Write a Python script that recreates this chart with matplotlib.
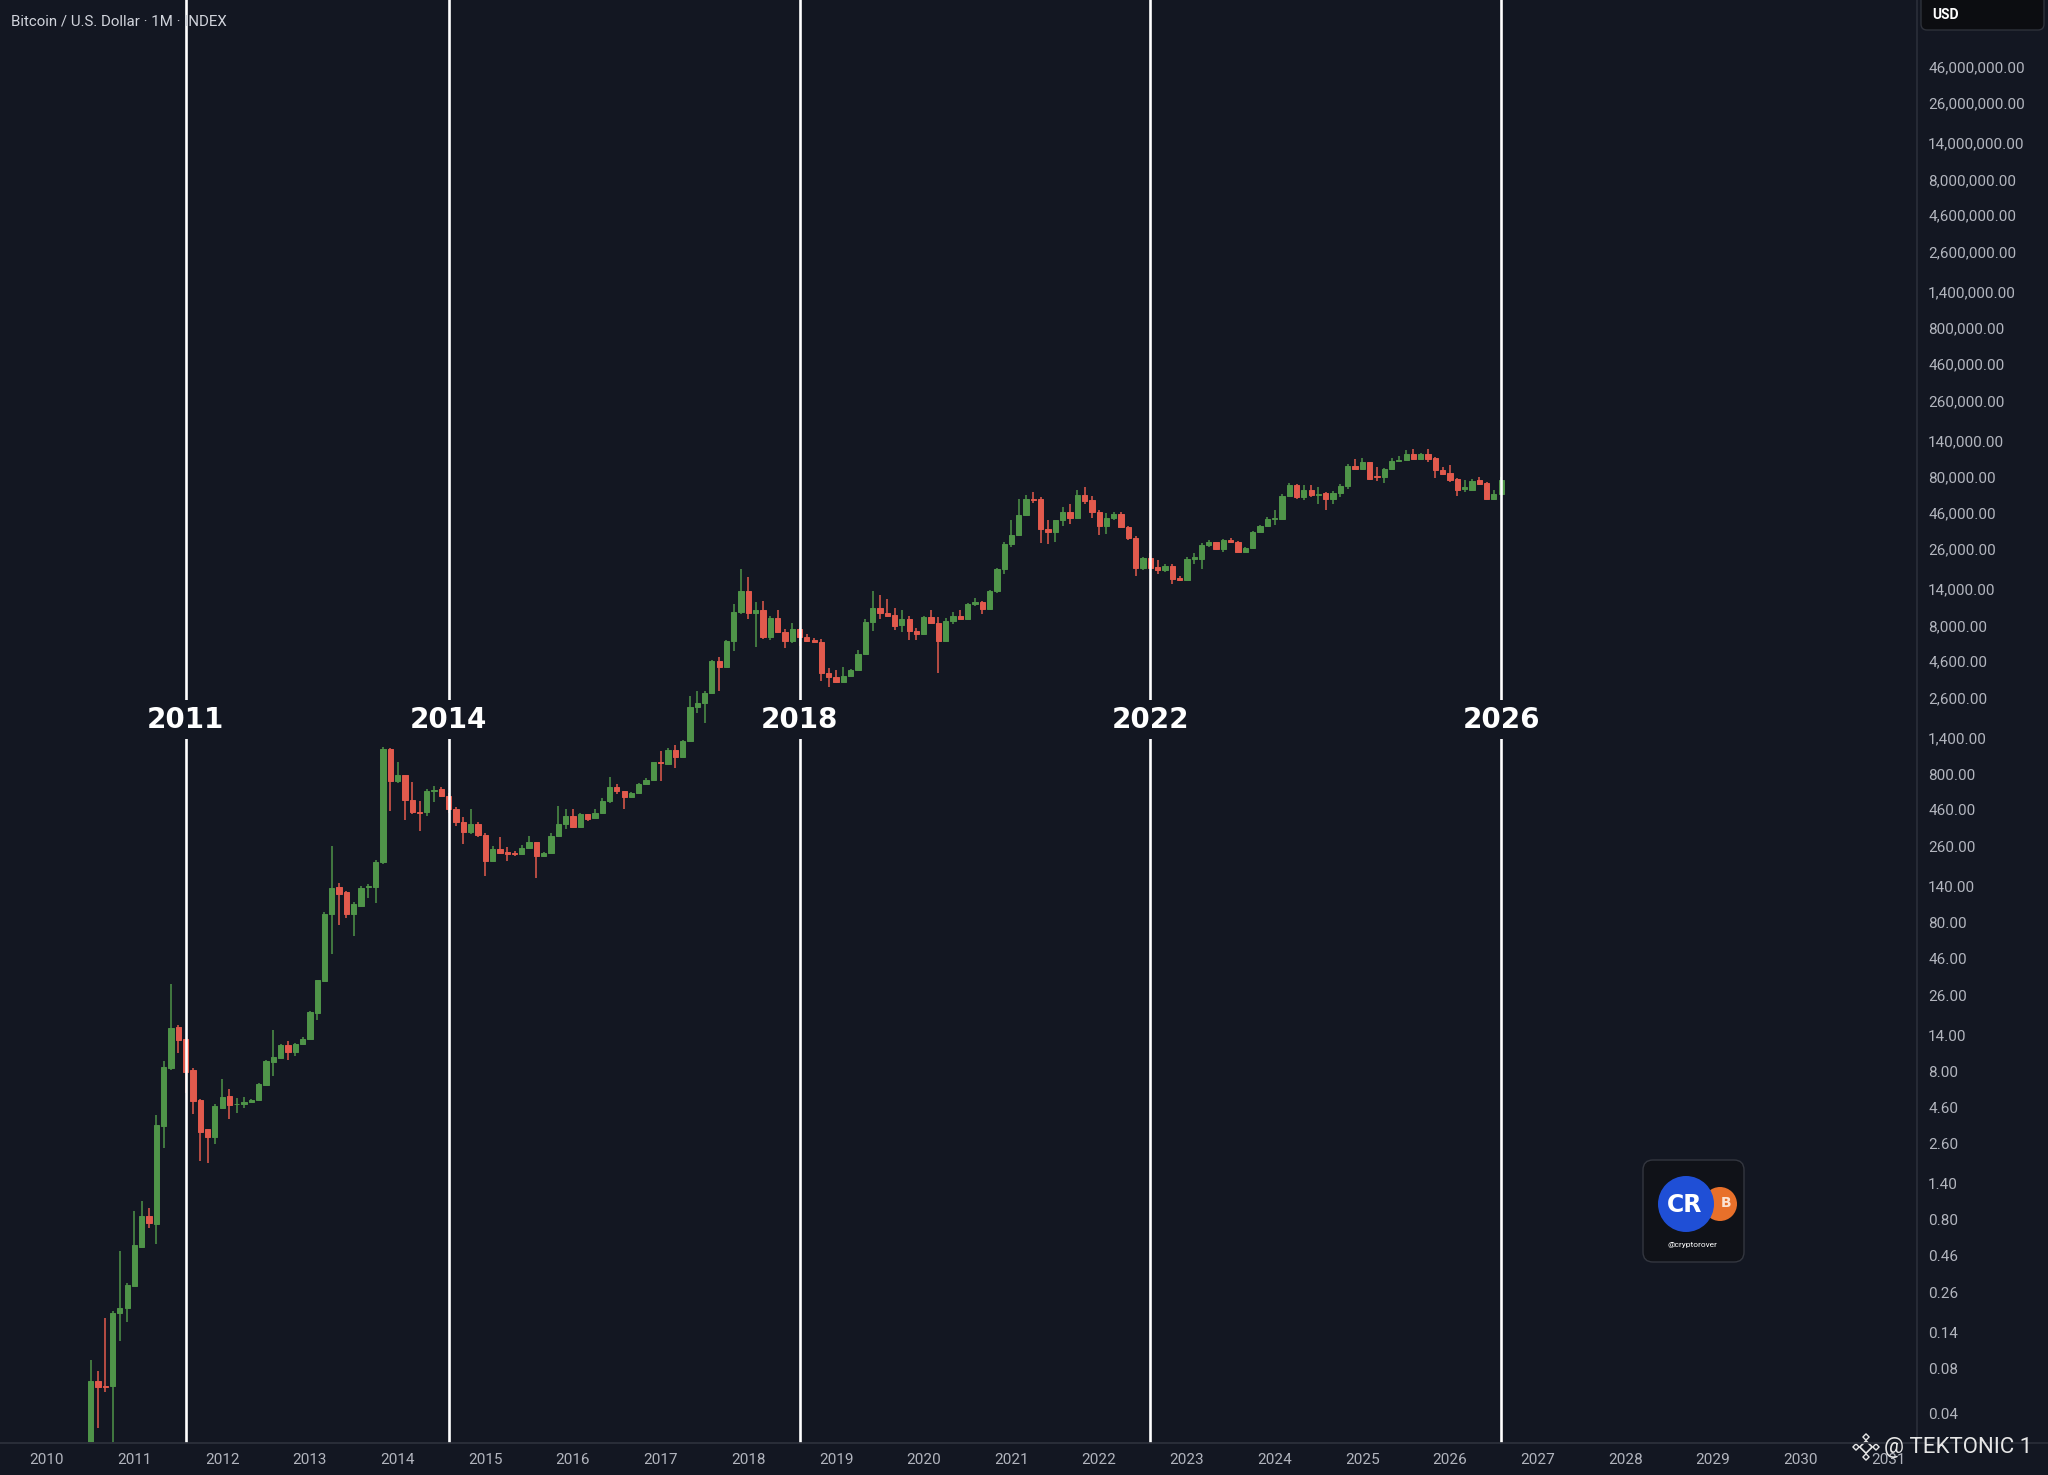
import matplotlib
matplotlib.use("Agg")
import matplotlib.pyplot as plt
import matplotlib.transforms as mtransforms
from matplotlib.patches import FancyBboxPatch, Circle
from matplotlib.ticker import FixedLocator, FuncFormatter, NullLocator

plt.rcParams['font.family'] = ['Roboto', 'DejaVu Sans']

BG = "#131722"
UP = "#4f9449"
DOWN = "#e25a4d"
AXIS_TEXT = "#b2b5be"
GRID_LINE = "#2a2e39"

# Monthly BTC candles, Jul 2010 .. Aug 2026
first_year, first_month = 2010, 7

opens = [
    0.02, 0.066, 0.061, 0.0607, 0.189, 0.2045,
    0.286, 0.524, 0.848, 0.752, 3.42, 8.37, 15.9, 13.1, 8.11, 5.10, 3.25, 2.90,
    4.55, 5.45, 4.79, 4.85, 4.95, 5.10, 6.46, 9.23, 9.87, 12.1, 10.8, 12.3,
    13.1, 19.8, 32.4, 92.1, 139, 128, 92.1, 104, 138, 138, 206, 1178,
    721, 787, 534, 445, 441, 611, 634, 565, 465, 378, 324, 370,
    312, 208, 250, 240, 234, 230, 256, 277, 225, 234, 307, 368,
    419, 352, 430, 403, 434, 523, 657, 611, 557, 596, 685, 729,
    958, 940, 1166, 1046, 1341, 2249, 2393, 2794, 4639, 4226, 6259, 9812,
    13590, 9714, 10070, 6725, 8986, 7196, 6257, 7578, 6725, 6400, 6200, 3809,
    3600, 3313, 3675, 4012, 5142, 8403, 10495, 9700, 9400, 8000, 8848, 7308,
    7012, 9080, 8274, 6257, 8534, 9318, 8848, 11165, 11460, 10333, 13590, 19215,
    28313, 32550, 43950, 56900, 56900, 35740, 33940, 40670, 46270, 42390, 59940, 56040,
    46000, 37300, 42390, 45080, 36670, 31070, 19520, 22790, 19800, 18730, 19920, 16600,
    16040, 22440, 22440, 27880, 29060, 26200, 29820, 29100, 24890, 26480, 33940, 37240,
    41730, 41730, 59320, 69990, 58410, 65430, 60500, 62000, 56910, 62150, 68890, 93960,
    90620, 100500, 81000, 79500, 90620, 102050, 103500, 113200, 105800, 113200, 107460, 89000,
    84500, 77600, 66500, 65430, 75610, 72540, 56910, 60870,
]
highs = [
    0.092, 0.077, 0.175, 0.196, 0.493, 0.30,
    0.925, 1.069, 0.964, 4.06, 9.38, 31.1, 16.4, 13.3, 8.46, 5.20, 3.30, 4.84,
    7.06, 6.04, 5.31, 5.37, 5.20, 6.70, 9.48, 15.1, 12.3, 12.8, 12.4, 13.6,
    20.5, 33.0, 95.0, 263, 147, 130, 110, 141, 146, 210, 1222, 1190,
    958, 790, 703, 529, 630, 667, 650, 600, 480, 408, 465, 380,
    320, 263, 300, 258, 242, 268, 307, 280, 240, 322, 490, 465,
    465, 440, 430, 465, 550, 767, 690, 615, 610, 700, 750, 970,
    1137, 1190, 1254, 1350, 2695, 2882, 2900, 4700, 4900, 6400, 11165, 19220,
    16885, 11460, 11600, 9300, 10100, 7600, 8274, 7700, 7000, 6600, 6500, 4139,
    4000, 4200, 4100, 5450, 8848, 13590, 12900, 12065, 10500, 10175, 9250, 7700,
    9300, 10175, 9100, 9000, 9900, 10175, 11300, 12253, 11700, 13800, 19500, 29000,
    40670, 56900, 59940, 63100, 58500, 40670, 41000, 50000, 52120, 64750, 68200, 59000,
    47500, 45500, 46270, 46270, 37500, 32000, 23200, 24500, 22100, 20600, 20700, 17200,
    23000, 24500, 28500, 30130, 29300, 30500, 31000, 29500, 27000, 34500, 37800, 43000,
    47500, 61500, 72540, 71000, 69990, 69990, 68190, 63000, 64000, 71500, 96930, 105800,
    107460, 101000, 92990, 91000, 107460, 109700, 120400, 122300, 115500, 122300, 108000, 92990,
    95430, 78500, 75610, 77600, 79620, 73500, 65430, 79620,
]
lows = [
    0.02, 0.032, 0.056, 0.015, 0.122, 0.166,
    0.286, 0.52, 0.707, 0.552, 2.44, 8.11, 10.7, 5.74, 4.10, 1.99, 1.94, 2.58,
    4.55, 3.80, 4.21, 4.55, 4.90, 5.10, 6.40, 7.43, 9.80, 9.48, 10.1, 12.2,
    13.1, 17.6, 32.0, 49.0, 77.3, 85.7, 65.2, 103, 118, 109, 200, 448,
    700, 392, 433, 332, 420, 515, 560, 440, 359, 270, 315, 300,
    165, 205, 232, 208, 226, 228, 253, 159, 222, 232, 300, 340,
    345, 348, 385, 400, 430, 510, 590, 465, 550, 590, 680, 725,
    721, 930, 878, 1040, 1330, 2049, 1755, 2750, 2912, 4200, 5415, 9500,
    8850, 5760, 6450, 6390, 7100, 5642, 6100, 5850, 6150, 6100, 3365, 3066,
    3300, 3300, 3650, 4000, 5100, 7385, 8848, 9200, 7460, 7196, 6390, 6390,
    6900, 8200, 3809, 6200, 8200, 8900, 8800, 10800, 9560, 10300, 13300, 17700,
    26890, 32000, 43500, 53200, 28610, 28313, 29000, 37500, 38630, 42000, 52640, 42000,
    32220, 33070, 41200, 36500, 30130, 17150, 18800, 19500, 17600, 18400, 15230, 15900,
    15900, 20770, 19215, 27000, 25700, 24900, 28700, 24800, 24800, 26300, 33500, 37000,
    37630, 41500, 58500, 56500, 56000, 58000, 52660, 47990, 52500, 58410, 66500, 89800,
    89000, 76400, 74830, 72930, 90000, 100000, 103000, 104500, 104000, 100500, 78430, 82500,
    73680, 59320, 63100, 64100, 69980, 56330, 56000, 59940,
]
closes = [
    0.066, 0.060, 0.0605, 0.189, 0.2045, 0.294,
    0.540, 0.848, 0.764, 3.46, 8.55, 15.7, 12.9, 7.91, 5.04, 3.13, 2.90, 4.67,
    5.39, 4.74, 4.85, 4.95, 5.10, 6.60, 9.38, 9.98, 12.1, 10.8, 12.3, 13.3,
    20.2, 32.8, 92.1, 136.5, 125.7, 92.1, 107.6, 137.9, 141, 206, 1178, 721,
    787, 534, 441, 440, 611, 625, 570, 465, 378, 324, 368, 312,
    208.6, 250, 234, 232, 230, 256, 277, 225, 236, 307, 368, 419,
    350, 430, 398, 434, 523, 657, 611, 557, 596, 685, 729, 958,
    950, 1166, 1046, 1341, 2249, 2393, 2794, 4639, 4226, 6259, 9812, 13590,
    9714, 10070, 6725, 8986, 7196, 6257, 7578, 6725, 6257, 6200, 3809, 3581,
    3313, 3675, 4012, 5142, 8403, 10495, 9660, 9318, 7980, 8848, 7308, 7012,
    9080, 8274, 6257, 8534, 9318, 8848, 11165, 11460, 10333, 13590, 19215, 28313,
    32550, 43950, 56900, 55700, 35740, 33940, 40670, 46270, 42390, 59940, 54880, 46000,
    37300, 42390, 45080, 36670, 31070, 19520, 22790, 19520, 18730, 19920, 16460, 16040,
    22440, 22900, 27880, 29060, 26200, 29820, 29100, 24890, 26480, 33940, 37240, 41730,
    42100, 59320, 69990, 58410, 65430, 59940, 61500, 56910, 62150, 68890, 93960, 90620,
    100500, 77600, 79500, 90620, 102050, 103500, 113200, 105800, 113200, 105800, 88320, 83840,
    75610, 64750, 68000, 74450, 71810, 56910, 61500, 76400,
]

price_ticks = [46e6, 26e6, 14e6, 8e6, 4.6e6, 2.6e6, 1.4e6, 8e5, 4.6e5, 2.6e5,
               1.4e5, 8e4, 4.6e4, 2.6e4, 1.4e4, 8000, 4600, 2600, 1400, 800,
               460, 260, 140, 80, 46, 26, 14, 8, 4.6, 2.6, 1.4, 0.8, 0.46,
               0.26, 0.14, 0.08, 0.04]
year_labels = list(range(2010, 2032))
cycle_months = [(2011, 8), (2014, 8), (2018, 8), (2022, 8), (2026, 8)]
cycle_labels = ["2011", "2014", "2018", "2022", "2026"]


def month_index(year, month):
    # months counted from Jan 2010
    return (year - 2010) * 12 + (month - 1)


start = month_index(first_year, first_month)
xs = [start + i for i in range(len(opens))]
colors = [UP if c >= o else DOWN for o, c in zip(opens, closes)]

fig = plt.figure(figsize=(20.48, 14.75), dpi=100, facecolor=BG)
ax = fig.add_axes([0, 32 / 1475, 1917 / 2048, 1443 / 1475])
ax.set_facecolor(BG)
ax.set_yscale('log')
ax.set_ylim(10 ** -1.597, 10 ** 8.1097)
ax.set_xlim(-6.40, 255.9)

# candles: wicks then bodies
ax.vlines(xs, lows, highs, colors=colors, linewidth=1.1, zorder=2)
bottoms = [min(o, c) for o, c in zip(opens, closes)]
heights = [abs(c - o) for o, c in zip(opens, closes)]
ax.bar(xs, heights, bottom=bottoms, width=0.72, color=colors,
       edgecolor=colors, linewidth=0.7, zorder=2)

# cycle markers
trans = mtransforms.blended_transform_factory(ax.transData, ax.transAxes)
for (yr, mo), lab in zip(cycle_months, cycle_labels):
    cx = month_index(yr, mo)
    ax.axvline(cx, color='white', linewidth=1.9, zorder=3)
    ax.text(cx, 0.5013, lab, transform=trans, ha='center', va='center',
            fontsize=20, fontweight='bold', color='white',
            family='DejaVu Sans', zorder=5,
            bbox=dict(boxstyle='square,pad=0.2', fc=BG, ec='none'))

# price scale
ax.yaxis.tick_right()
ax.yaxis.set_major_locator(FixedLocator(price_ticks))
ax.yaxis.set_minor_locator(NullLocator())
ax.yaxis.set_major_formatter(FuncFormatter(lambda v, p: f"{v:,.2f}"))
ax.tick_params(axis='y', length=0, pad=8, labelsize=11, labelcolor=AXIS_TEXT)

# time scale
ax.set_xticks([month_index(y, 1) for y in year_labels])
ax.set_xticklabels([str(y) for y in year_labels])
ax.tick_params(axis='x', length=0, pad=7, labelsize=11, labelcolor=AXIS_TEXT)

for side in ('top', 'left'):
    ax.spines[side].set_visible(False)
for side in ('bottom', 'right'):
    ax.spines[side].set_color(GRID_LINE)
    ax.spines[side].set_linewidth(1.2)

# overlay in pixel coordinates for the chrome
ov = fig.add_axes([0, 0, 1, 1], zorder=10)
ov.set_xlim(0, 2048)
ov.set_ylim(1475, 0)
ov.axis('off')
ov.patch.set_alpha(0)

ov.plot([0, 2048], [1443, 1443], color=GRID_LINE, linewidth=1.2)

ov.text(11, 21, "Bitcoin / U.S. Dollar · 1M · INDEX", color='#d1d4dc',
        fontsize=10.8, ha='left', va='center')

ov.add_patch(FancyBboxPatch((1921, -10), 123, 40,
                            boxstyle='round,pad=0,rounding_size=6',
                            fc='#0c0d11', ec='#2e313a', lw=1))
ov.text(1932, 15, "USD", color='white', fontsize=10, fontweight='bold',
        ha='left', va='center')

# cryptorover badge
ov.add_patch(FancyBboxPatch((1643, 1160), 101, 102,
                            boxstyle='round,pad=0,rounding_size=10',
                            fc='#101218', ec='#33363f', lw=1))
ov.add_patch(Circle((1720, 1204), 17, fc='#e8702a', ec='none'))
ov.add_patch(Circle((1686, 1204), 28, fc='#1f4fd6', ec='none'))
ov.text(1685, 1205, "CR", color='white', fontsize=17, fontweight='bold',
        ha='center', va='center', family='DejaVu Sans')
ov.text(1726, 1203, "B", color='#fbe3d3', fontsize=10, fontweight='bold',
        ha='center', va='center', family='DejaVu Sans')
ov.text(1692, 1245, "@cryptorover", color='white', fontsize=6,
        ha='center', va='center')

# watermark
ov.scatter([1866], [1447], marker='D', s=40, facecolors='none',
           edgecolors='#e6e6e6', linewidths=1.2)
ov.scatter([1866, 1866, 1856, 1876], [1437, 1457, 1447, 1447], marker='D',
           s=10, facecolors='none', edgecolors='#e6e6e6', linewidths=1)
ov.text(1884, 1447, "@ TEKTONIC 1", color='#e6e6e6', fontsize=16,
        ha='left', va='center')

fig.savefig("out.png", dpi=100, facecolor=BG)
